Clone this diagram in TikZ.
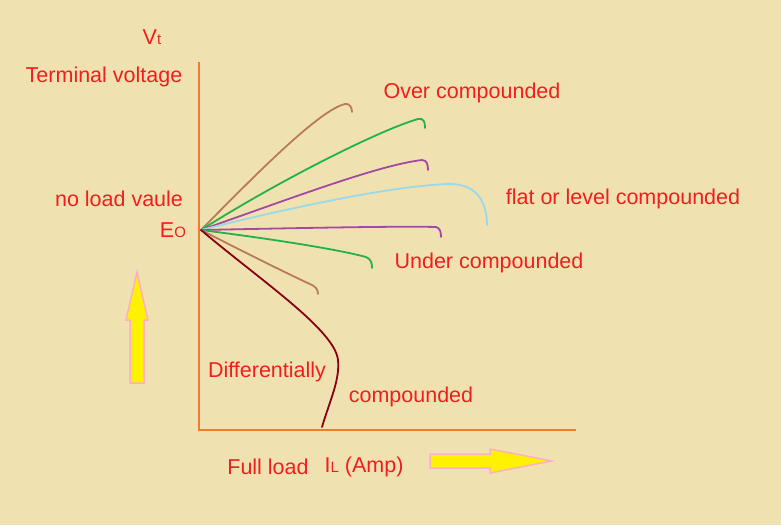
\documentclass[tikz,border=0pt]{standalone}
\usepackage{fontspec}
\setmainfont{Liberation Sans}
\definecolor{bg}{RGB}{240,226,176}
\definecolor{ax}{RGB}{237,125,49}
\definecolor{tx}{RGB}{240,30,30}
\definecolor{br}{RGB}{185,122,87}
\definecolor{gr}{RGB}{34,177,76}
\definecolor{pu}{RGB}{163,73,164}
\definecolor{lb}{RGB}{153,217,234}
\definecolor{dr}{RGB}{136,0,21}
\definecolor{ye}{RGB}{255,242,0}
\definecolor{pk}{RGB}{255,174,201}
\newcommand{\lowsc}[1]{{\fontsize{15}{16}\selectfont #1}}
\begin{document}
\begin{tikzpicture}[x=1pt,y=-1pt,
  lbl/.style={text=tx,font=\fontsize{21.5}{23}\selectfont,inner sep=0pt},
  crv/.style={line width=1.8pt,line cap=round},
  bigarrow/.style={fill=ye,draw=pk,line width=1.5pt,line join=miter}]
\fill[bg] (0,0) rectangle (781,525);
\useasboundingbox (0,0) rectangle (781,525);
\coordinate (o) at (199,430);
\coordinate (ytop) at (199,62);
\coordinate (xend) at (576,430);
\coordinate (e) at (201,230);
\draw[ax,line width=2pt] (ytop) -- (o) -- (xend);
\draw[crv,br] (e) .. controls (260,170) and (320,110) .. (345,104) .. controls (350,103) and (352,108) .. (352,112);
\draw[crv,gr] (e) .. controls (280,180) and (380,130) .. (418,119) .. controls (424,118) and (425,122) .. (425,128);
\draw[crv,pu] (e) .. controls (300,195) and (380,165) .. (422,160) .. controls (427,160) and (428,165) .. (428,170);
\draw[crv,lb] (e) .. controls (300,205) and (400,185) .. (450,184) .. controls (475,184) and (487,200) .. (487,225);
\draw[crv,pu] (e) .. controls (300,228) and (400,226) .. (436,227) .. controls (440,228) and (441,232) .. (441,237);
\draw[crv,gr] (e) .. controls (280,240) and (340,250) .. (366,257) .. controls (371,259) and (372,263) .. (372,268);
\draw[crv,br] (e) .. controls (240,250) and (290,275) .. (312,285) .. controls (316,287) and (318,290) .. (318,294);
\draw[crv,dr] (e) .. controls (260,280) and (335,330) .. (338,360) .. controls (340,380) and (330,400) .. (322,427);
\draw[bigarrow] (130,383) -- (130,320) -- (126,320) -- (137,272) -- (148,320) -- (144,320) -- (144,383) -- cycle;
\draw[bigarrow] (430,454) -- (490,454) -- (490,449) -- (552,461) -- (490,473) -- (490,468) -- (430,468) -- cycle;
\node[lbl] (vt) at (152,37) {V\lowsc{t}};
\node[lbl] (tv) at (104,77) {Terminal voltage};
\node[lbl] (nl) at (119,199) {no load vaule};
\node[lbl] (eo) at (173,230) {E\lowsc{O}};
\node[lbl] (oc) at (472,93) {Over compounded};
\node[lbl] (fc) at (623,199) {flat or level compounded};
\node[lbl] (uc) at (489,263) {Under compounded};
\node[lbl] (dc) at (267,372) {Differentially};
\node[lbl] (cc) at (411,397) {compounded};
\node[lbl] (fl) at (268,467) {Full load};
\node[lbl] (il) at (364,467) {I\lowsc{L} (Amp)};
\end{tikzpicture}
\end{document}
